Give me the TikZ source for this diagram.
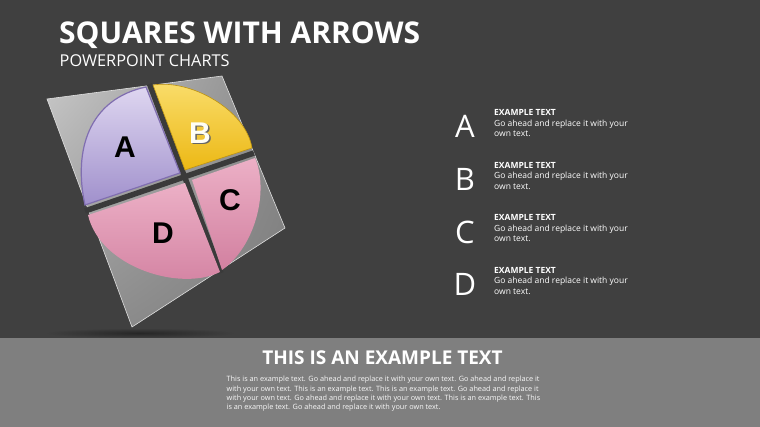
\documentclass[tikz,border=0pt]{standalone}
\usepackage{fontspec}
\usetikzlibrary{shadings}
\setmainfont{Open Sans}
\newfontfamily\arialfont{Liberation Sans}
\definecolor{bg}{RGB}{64,64,64}
\definecolor{band}{RGB}{127,127,127}
\definecolor{gapc}{RGB}{58,58,58}
\definecolor{lavtop}{RGB}{222,214,240}
\definecolor{lavbot}{RGB}{160,144,204}
\definecolor{lavedge}{RGB}{128,110,176}
\definecolor{yeltop}{RGB}{250,222,110}
\definecolor{yelbot}{RGB}{236,184,20}
\definecolor{pinktop}{RGB}{236,176,198}
\definecolor{pinkbot}{RGB}{210,128,160}
\definecolor{sqlight}{RGB}{200,200,200}
\definecolor{sqdark}{RGB}{125,125,125}
\tikzset{
  pielabel/.style={font=\arialfont\bfseries\fontsize{30}{30}\selectfont, inner sep=0pt},
  bigletter/.style={font=\fontsize{31}{31}\selectfont, text=white, inner sep=0pt},
  desc/.style={font=\fontsize{8.5}{10.5}\selectfont, text=white, align=left, inner sep=0pt, anchor=north west},
}
\begin{document}
\begin{tikzpicture}[x=1pt,y=-1pt]
\useasboundingbox (0,0) rectangle (760,427);
\fill[bg] (0,0) rectangle (760,427);
\fill[band] (0,338) rectangle (760,427);
% shadow under square
\shade[inner color=black!85, outer color=bg] (140,333) ellipse [x radius=95, y radius=5];
% tilted square
\shade[upper left=sqlight, upper right=sqdark!90!white, lower left=sqdark!85!white, lower right=sqdark]
  (47,99) -- (222,76) -- (285,228) -- (132,327) -- cycle;
\draw[white!75!gray, line width=0.6pt] (47,99) -- (222,76) -- (285,228) -- (132,327) -- cycle;
% gap cross
\draw[gapc, line width=5.5pt] (149.5,84) -- (221,273);
\draw[gapc, line width=5.5pt] (85,211) -- (254,153);
% piece A
\shade[top color=lavtop, bottom color=lavbot] (146,87) -- (180,173) -- (85,205)
  .. controls (73,150) and (89,99) .. cycle;
\draw[lavedge, line width=1.2pt] (146,87) -- (180,173) -- (85,205)
  .. controls (73,150) and (89,99) .. cycle;
% piece B
\shade[top color=yeltop, bottom color=yelbot] (153,85) .. controls (191,79) and (246,110) .. (252,148)
  -- (185,170) -- cycle;
\draw[yelbot!80!black, line width=0.6pt] (153,85) .. controls (191,79) and (246,110) .. (252,148)
  -- (185,170) -- cycle;
% piece C
\shade[top color=pinktop, bottom color=pinkbot] (192,180) -- (255,158) .. controls (269,190) and (256,246) .. (222,270)
  -- cycle;
% piece D
\shade[top color=pinktop, bottom color=pinkbot] (88,215) -- (185,183) -- (220,272)
  .. controls (180,292) and (100,267) .. cycle;
% pie labels
\node[pielabel] (la) at (125,147) {A};
\node[pielabel, text=black!60] (lbs) at (201.5,134.5) {B};
\node[pielabel, text=white!96!yellow] (lb) at (200,133) {B};
\node[pielabel] (lc) at (230,200) {C};
\node[pielabel] (ld) at (163,233) {D};
% titles
\node[font=\bfseries\fontsize{30}{32}\selectfont, text=white, anchor=base west, inner sep=0pt] (title) at (59,43.5) {SQUARES WITH ARROWS};
\node[font=\fontsize{16.3}{18}\selectfont, text=white, anchor=base west, inner sep=0pt] (sub) at (59.5,66.5) {POWERPOINT CHARTS};
% right list
\node[bigletter] (ra) at (465,126) {A};
\node[bigletter] (rb) at (465,179.5) {B};
\node[bigletter] (rc) at (465,232) {C};
\node[bigletter] (rd) at (465,284) {D};
\node[desc] (ta) at (494,109.5) {\textbf{EXAMPLE TEXT}\\Go ahead and replace it with your\\own text.};
\node[desc] (tb) at (494,162) {\textbf{EXAMPLE TEXT}\\Go ahead and replace it with your\\own text.};
\node[desc] (tc) at (494,214.5) {\textbf{EXAMPLE TEXT}\\Go ahead and replace it with your\\own text.};
\node[desc] (td) at (494,267) {\textbf{EXAMPLE TEXT}\\Go ahead and replace it with your\\own text.};
% bottom band text
\node[font=\bfseries\fontsize{19}{20}\selectfont, text=white, anchor=base, inner sep=0pt] (btitle) at (382.5,365) {THIS IS AN EXAMPLE TEXT};
\node[font=\fontsize{7.3}{9.4}\selectfont, text=white!95!gray, align=left, anchor=north west, inner sep=0pt] (bpara) at (226.5,376) {This is an example text. Go ahead and replace it with your own text. Go ahead and replace it\\with your own text. This is an example text. This is an example text. Go ahead and replace it\\with your own text. Go ahead and replace it with your own text. This is an example text. This\\is an example text. Go ahead and replace it with your own text.};
\end{tikzpicture}
\end{document}
